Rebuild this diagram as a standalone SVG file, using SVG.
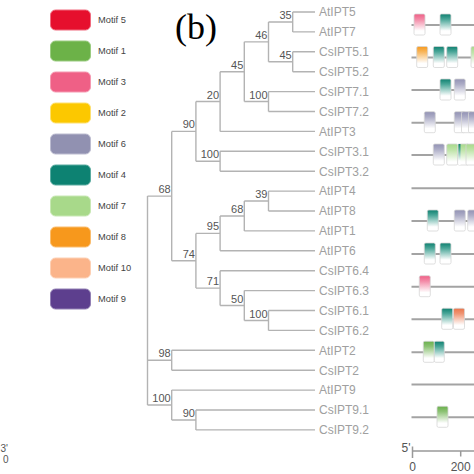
<svg xmlns="http://www.w3.org/2000/svg" width="474" height="474" viewBox="0 0 474 474">
<style>
.lt{font-family:"Liberation Sans",Arial,sans-serif;font-size:9.3px;fill:#444;}
.leaf{font-family:"Liberation Sans",Arial,sans-serif;font-size:12px;fill:#a0a0a0;}
.bs{font-family:"Liberation Sans",Arial,sans-serif;font-size:11px;fill:#555;text-anchor:end;}
.tree{fill:none;stroke:#b3b3b3;stroke-width:1.4;}
.gl{stroke:#a3a3a3;stroke-width:2;}
.mb{stroke:#d6d6d6;stroke-width:0.8;}
.sc{font-family:"Liberation Sans",Arial,sans-serif;font-size:12px;fill:#555;text-anchor:middle;}
</style>
<defs>
<linearGradient id="gpink" x1="0" y1="0" x2="0" y2="1"><stop offset="0" stop-color="#ef5f86"/><stop offset="0.25" stop-color="#f389a6"/><stop offset="0.8" stop-color="#fff"/></linearGradient>
<linearGradient id="gteal" x1="0" y1="0" x2="0" y2="1"><stop offset="0" stop-color="#0f8070"/><stop offset="0.25" stop-color="#4aa698"/><stop offset="0.8" stop-color="#fff"/></linearGradient>
<linearGradient id="gorange" x1="0" y1="0" x2="0" y2="1"><stop offset="0" stop-color="#f79a1e"/><stop offset="0.25" stop-color="#f8b55a"/><stop offset="0.8" stop-color="#fff"/></linearGradient>
<linearGradient id="ggray" x1="0" y1="0" x2="0" y2="1"><stop offset="0" stop-color="#9292b4"/><stop offset="0.25" stop-color="#acacc6"/><stop offset="0.8" stop-color="#fff"/></linearGradient>
<linearGradient id="glgreen" x1="0" y1="0" x2="0" y2="1"><stop offset="0" stop-color="#a8d98a"/><stop offset="0.3" stop-color="#c0e4aa"/><stop offset="0.85" stop-color="#fff"/></linearGradient>
<linearGradient id="ggreen" x1="0" y1="0" x2="0" y2="1"><stop offset="0" stop-color="#6ab04c"/><stop offset="0.25" stop-color="#8cc274"/><stop offset="0.8" stop-color="#fff"/></linearGradient>
<linearGradient id="gred" x1="0" y1="0" x2="0" y2="1"><stop offset="0" stop-color="#e9744a"/><stop offset="0.25" stop-color="#ef9473"/><stop offset="0.8" stop-color="#fff"/></linearGradient>
</defs>
<rect width="474" height="474" fill="#fff"/>

<g id="legend">
<rect x="50.5" y="10" width="40" height="20" rx="5" fill="#e60f2d" stroke="#f06a7e" stroke-width="1"/>
<text class="lt" x="98" y="23.3">Motif 5</text>
<rect x="50.5" y="41" width="40" height="20" rx="5" fill="#6cb248" stroke="#9acb80" stroke-width="1"/>
<text class="lt" x="98" y="54.3">Motif 1</text>
<rect x="50.5" y="72" width="40" height="20" rx="5" fill="#ef6086" stroke="#f599b1" stroke-width="1"/>
<text class="lt" x="98" y="85.3">Motif 3</text>
<rect x="50.5" y="103" width="40" height="20" rx="5" fill="#fcc800" stroke="#fde070" stroke-width="1"/>
<text class="lt" x="98" y="116.3">Motif 2</text>
<rect x="50.5" y="134" width="40" height="20" rx="5" fill="#9191b1" stroke="#bcbcd0" stroke-width="1"/>
<text class="lt" x="98" y="147.3">Motif 6</text>
<rect x="50.5" y="165" width="40" height="20" rx="5" fill="#0d8272" stroke="#5aaba0" stroke-width="1"/>
<text class="lt" x="98" y="178.3">Motif 4</text>
<rect x="50.5" y="196" width="40" height="20" rx="5" fill="#a8d98a" stroke="#c8e8b4" stroke-width="1"/>
<text class="lt" x="98" y="209.3">Motif 7</text>
<rect x="50.5" y="227" width="40" height="20" rx="5" fill="#f7981c" stroke="#fabd6e" stroke-width="1"/>
<text class="lt" x="98" y="240.3">Motif 8</text>
<rect x="50.5" y="258" width="40" height="20" rx="5" fill="#fbb48a" stroke="#fdd0b4" stroke-width="1"/>
<text class="lt" x="98" y="271.3">Motif 10</text>
<rect x="50.5" y="289" width="40" height="20" rx="5" fill="#5d3f8e" stroke="#9280b4" stroke-width="1"/>
<text class="lt" x="98" y="302.3">Motif 9</text>
</g>

<g id="panel-a-edge">
<text x="8" y="452" font-family="Liberation Sans,Arial,sans-serif" font-size="10" fill="#555" text-anchor="end">3'</text>
<text x="8.5" y="463" font-family="Liberation Sans,Arial,sans-serif" font-size="10" fill="#555" text-anchor="end">0</text>
</g>

<text id="panel-label" x="175" y="39" font-family="Liberation Serif,Times New Roman,serif" font-size="36" fill="#000">(b)</text>

<g id="connectors">
<path class="tree" d="M147.5,196.1V405M147.5,196.1H171.7M147.5,360.25H171.7M147.5,405H171.7
M171.7,131.4V260.75M171.7,131.4H195.9M171.7,260.75H195.9
M195.9,101.55V161.25M195.9,101.55H220.1M195.9,161.25H220.1
M220.1,71.7V131.4M220.1,71.7H244.3M220.1,131.4H315
M244.3,41.85V101.55M244.3,41.85H268.5M244.3,101.55H268.5
M268.5,21.95V61.75M268.5,21.95H292.7M268.5,61.75H292.7
M292.7,12V31.9M292.7,12H315M292.7,31.9H315
M292.7,51.8V71.7M292.7,51.8H315M292.7,71.7H315
M268.5,91.6V111.5M268.5,91.6H315M268.5,111.5H315
M220.1,151.3V171.2M220.1,151.3H315M220.1,171.2H315
M195.9,233.39V288.1M195.9,233.39H220.1M195.9,288.1H220.1
M220.1,215.98V250.8M220.1,215.98H244.3M220.1,250.8H315
M244.3,201.05V230.9M244.3,201.05H268.5M244.3,230.9H315
M268.5,191.1V211M268.5,191.1H315M268.5,211H315
M220.1,270.7V305.5M220.1,270.7H315M220.1,305.5H244.3
M244.3,290.6V320.45M244.3,290.6H315M244.3,320.45H268.5
M268.5,310.5V330.4M268.5,310.5H315M268.5,330.4H315
M171.7,350.3V370.2M171.7,350.3H315M171.7,370.2H315
M171.7,390.1V419.95M171.7,390.1H315M171.7,419.95H195.9
M195.9,410V429.9M195.9,410H315M195.9,429.9H315"/>
</g>

<g id="bootstrap">
<text class="bs" x="291.7" y="19">35</text>
<text class="bs" x="291.7" y="58.8">45</text>
<text class="bs" x="267.5" y="38.9">46</text>
<text class="bs" x="267.5" y="98.6">100</text>
<text class="bs" x="243.3" y="68.7">45</text>
<text class="bs" x="219.1" y="98.6">20</text>
<text class="bs" x="219.1" y="158.3">100</text>
<text class="bs" x="194.9" y="128.4">90</text>
<text class="bs" x="170.7" y="193.1">68</text>
<text class="bs" x="267.5" y="198">39</text>
<text class="bs" x="243.3" y="213">68</text>
<text class="bs" x="219.1" y="230.4">95</text>
<text class="bs" x="194.9" y="257.8">74</text>
<text class="bs" x="219.1" y="285.1">71</text>
<text class="bs" x="243.3" y="302.5">50</text>
<text class="bs" x="267.5" y="317.5">100</text>
<text class="bs" x="170.7" y="357.3">98</text>
<text class="bs" x="170.7" y="402">100</text>
<text class="bs" x="194.9" y="417">90</text>
</g>

<g id="leaves">
<text class="leaf" x="319" y="16.3">AtIPT5</text>
<text class="leaf" x="319" y="36.2">AtIPT7</text>
<text class="leaf" x="319" y="56.1">CsIPT5.1</text>
<text class="leaf" x="319" y="76">CsIPT5.2</text>
<text class="leaf" x="319" y="95.9">CsIPT7.1</text>
<text class="leaf" x="319" y="115.8">CsIPT7.2</text>
<text class="leaf" x="319" y="135.7">AtIPT3</text>
<text class="leaf" x="319" y="155.6">CsIPT3.1</text>
<text class="leaf" x="319" y="175.5">CsIPT3.2</text>
<text class="leaf" x="319" y="195.4">AtIPT4</text>
<text class="leaf" x="319" y="215.3">AtIPT8</text>
<text class="leaf" x="319" y="235.2">AtIPT1</text>
<text class="leaf" x="319" y="255.1">AtIPT6</text>
<text class="leaf" x="319" y="275">CsIPT6.4</text>
<text class="leaf" x="319" y="294.9">CsIPT6.3</text>
<text class="leaf" x="319" y="314.8">CsIPT6.1</text>
<text class="leaf" x="319" y="334.7">CsIPT6.2</text>
<text class="leaf" x="319" y="354.6">AtIPT2</text>
<text class="leaf" x="319" y="374.5">CsIPT2</text>
<text class="leaf" x="319" y="394.4">AtIPT9</text>
<text class="leaf" x="319" y="414.3">CsIPT9.1</text>
<text class="leaf" x="319" y="434.2">CsIPT9.2</text>
</g>

<g id="gene-structures">
<g class="gl">
<line x1="411.5" y1="25" x2="474" y2="25"/>
<line x1="411.5" y1="57.5" x2="474" y2="57.5"/>
<line x1="411.5" y1="90" x2="474" y2="90"/>
<line x1="411.5" y1="122.7" x2="474" y2="122.7"/>
<line x1="411.5" y1="155" x2="474" y2="155"/>
<line x1="411.5" y1="188.3" x2="474" y2="188.3"/>
<line x1="411.5" y1="221" x2="474" y2="221"/>
<line x1="411.5" y1="254" x2="474" y2="254"/>
<line x1="411.5" y1="286.7" x2="474" y2="286.7"/>
<line x1="411.5" y1="319.3" x2="474" y2="319.3"/>
<line x1="411.5" y1="352.3" x2="474" y2="352.3"/>
<line x1="411.5" y1="384.5" x2="474" y2="384.5"/>
<line x1="411.5" y1="417.3" x2="474" y2="417.3"/>
</g>
<g class="mb">
<rect x="414" y="14" width="11" height="21" rx="1.5" fill="url(#gpink)"/>
<rect x="440" y="14" width="11" height="21" rx="1.5" fill="url(#gteal)"/>
<rect x="416.7" y="46.5" width="11" height="21" rx="1.5" fill="url(#gorange)"/>
<rect x="433.3" y="46.5" width="11" height="21" rx="1.5" fill="url(#gteal)"/>
<rect x="446.7" y="46.5" width="11" height="21" rx="1.5" fill="url(#gteal)"/>
<rect x="471" y="46.5" width="11" height="21" rx="1.5" fill="url(#glgreen)"/>
<rect x="440" y="79" width="11" height="21" rx="1.5" fill="url(#gteal)"/>
<rect x="454.3" y="79" width="11" height="21" rx="1.5" fill="url(#ggray)"/>
<rect x="424.3" y="111.7" width="11" height="21" rx="1.5" fill="url(#ggray)"/>
<rect x="454.3" y="111.7" width="11" height="21" rx="1.5" fill="url(#ggray)"/>
<rect x="461.5" y="111.7" width="11" height="21" rx="1.5" fill="url(#ggray)"/>
<rect x="468.5" y="111.7" width="11" height="21" rx="1.5" fill="url(#ggray)"/>
<rect x="433.3" y="144" width="11" height="21" rx="1.5" fill="url(#ggray)"/>
<rect x="446.7" y="144" width="11" height="21" rx="1.5" fill="url(#glgreen)"/>
<rect x="457.7" y="144" width="11" height="21" rx="1.5" fill="url(#glgreen)"/>
<rect x="458.5" y="144" width="2" height="21" fill="url(#gteal)" stroke="none"/>
<rect x="466" y="144" width="11" height="21" rx="1.5" fill="url(#glgreen)"/>
<rect x="427.3" y="210" width="11" height="21" rx="1.5" fill="url(#gteal)"/>
<rect x="454.3" y="210" width="11" height="21" rx="1.5" fill="url(#ggray)"/>
<rect x="467.7" y="210" width="11" height="21" rx="1.5" fill="url(#ggray)"/>
<rect x="424.3" y="243" width="11" height="21" rx="1.5" fill="url(#gteal)"/>
<rect x="440" y="243" width="11" height="21" rx="1.5" fill="url(#gteal)"/>
<rect x="419.3" y="275.7" width="11" height="21" rx="1.5" fill="url(#gpink)"/>
<rect x="441.7" y="308.3" width="11" height="21" rx="1.5" fill="url(#gteal)"/>
<rect x="453.5" y="308.3" width="11" height="21" rx="1.5" fill="url(#gred)"/>
<rect x="423.3" y="341.3" width="11" height="21" rx="1.5" fill="url(#ggreen)"/>
<rect x="434.3" y="341.3" width="10" height="21" rx="1.5" fill="url(#gteal)"/>
<rect x="437" y="406.3" width="11" height="21" rx="1.5" fill="url(#ggreen)"/>
</g>
</g>

<g id="scale">
<path d="M412.5,451H474M412.5,446.5V458M460.7,451V456.5" fill="none" stroke="#999" stroke-width="1.5"/>
<text x="410.5" y="452" font-family="Liberation Sans,Arial,sans-serif" font-size="12" fill="#555" text-anchor="end">5'</text>
<text class="sc" x="412.5" y="471">0</text>
<text class="sc" x="460.7" y="471">200</text>
</g>
</svg>
